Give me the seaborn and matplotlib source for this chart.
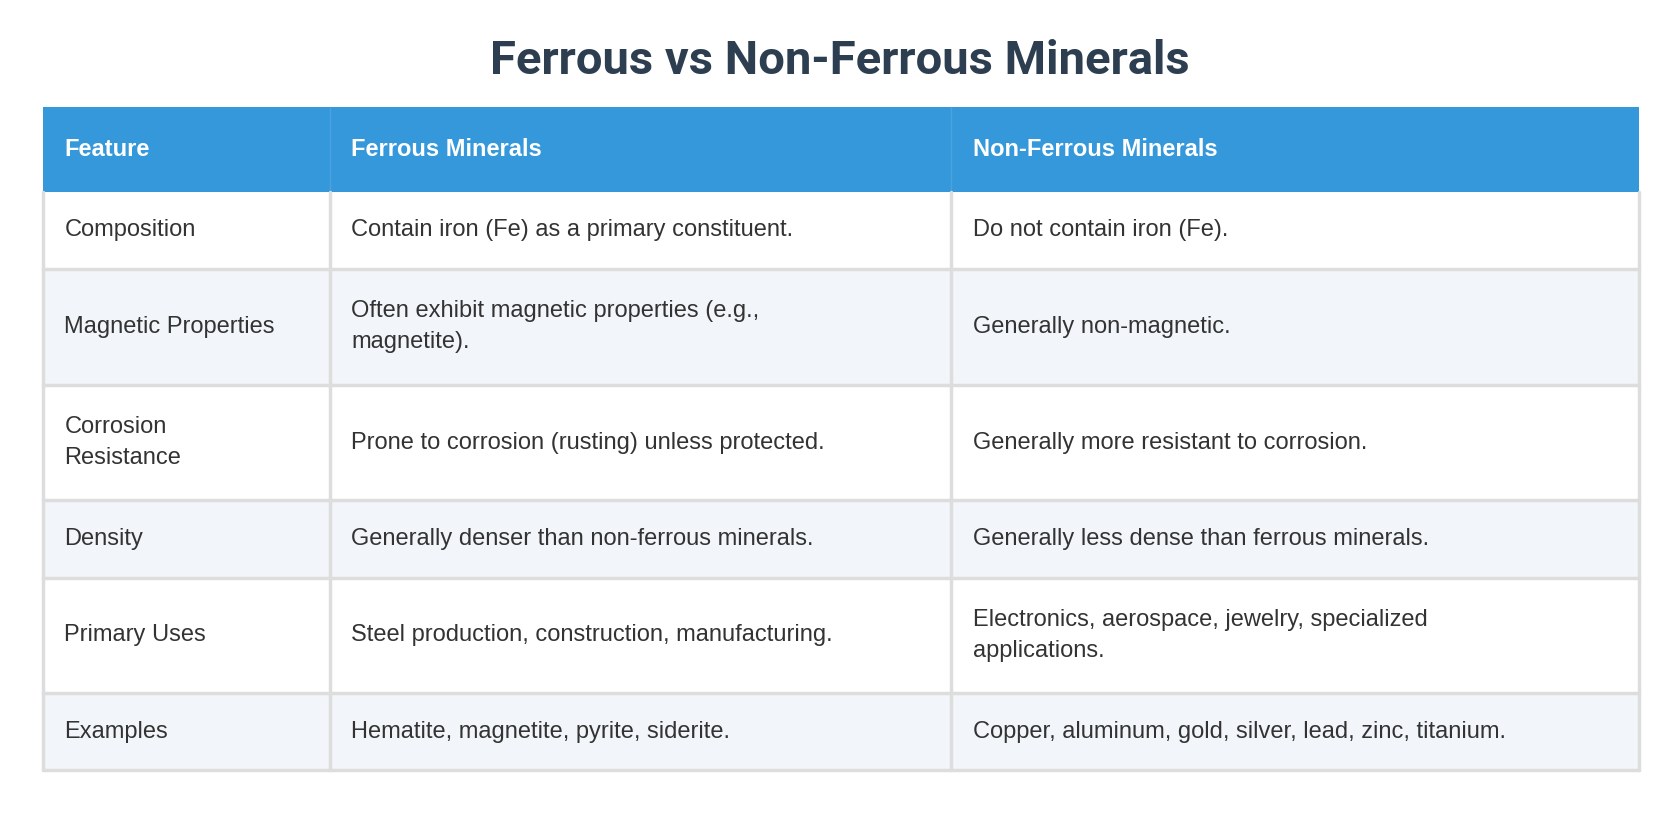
import matplotlib
matplotlib.use("Agg")
import matplotlib.pyplot as plt
import seaborn as sns
from matplotlib.patches import Rectangle

sns.set_theme(style="white")
plt.rcParams['font.family'] = ['Liberation Sans', 'DejaVu Sans']

# Table content
title = "Ferrous vs Non-Ferrous Minerals"
headers = ["Feature", "Ferrous Minerals", "Non-Ferrous Minerals"]
features = ["Composition", "Magnetic Properties", "Corrosion\nResistance",
            "Density", "Primary Uses", "Examples"]
ferrous = ["Contain iron (Fe) as a primary constituent.",
           "Often exhibit magnetic properties (e.g.,\nmagnetite).",
           "Prone to corrosion (rusting) unless protected.",
           "Generally denser than non-ferrous minerals.",
           "Steel production, construction, manufacturing.",
           "Hematite, magnetite, pyrite, siderite."]
non_ferrous = ["Do not contain iron (Fe).",
               "Generally non-magnetic.",
               "Generally more resistant to corrosion.",
               "Generally less dense than ferrous minerals.",
               "Electronics, aerospace, jewelry, specialized\napplications.",
               "Copper, aluminum, gold, silver, lead, zinc, titanium."]

# Layout (pixels, measured on a 1568-wide view, scaled to 1680)
s = 1680 / 1568
col_edges = [v * s for v in [40, 308, 888, 1530]]
header_top, header_bot = 100 * s, 179 * s
row_bottoms = [v * s for v in [251, 359, 467, 539, 647, 719]]
pad = 20 * s

fig = plt.figure(figsize=(16.8, 8.14), dpi=100)
ax = fig.add_axes([0, 0, 1, 1])
ax.set_xlim(0, 1680)
ax.set_ylim(814, 0)
ax.axis("off")

ax.text(840, 57 * s, title, ha="center", va="center", fontsize=34,
        fontweight="bold", color="#2c3e50", family=["Roboto", "DejaVu Sans"])

# header
ax.add_patch(Rectangle((col_edges[0], header_top), col_edges[-1] - col_edges[0],
                       header_bot - header_top, color="#3498db", lw=0))
for i, h in enumerate(headers):
    ax.text(col_edges[i] + pad, (header_top + header_bot) / 2, h, ha="left",
            va="center", fontsize=17, fontweight="bold", color="white")
for x in col_edges[1:-1]:
    ax.plot([x, x], [header_top, header_bot], color="#4aa3e0", lw=1)

# body rows
tops = [header_bot] + row_bottoms[:-1]
for r, (top, bot) in enumerate(zip(tops, row_bottoms)):
    fill = "#ffffff" if r % 2 == 0 else "#f2f5fa"
    ax.add_patch(Rectangle((col_edges[0], top), col_edges[-1] - col_edges[0],
                           bot - top, facecolor=fill, lw=0))
    cy = (top + bot) / 2
    for c, txt in enumerate([features[r], ferrous[r], non_ferrous[r]]):
        ax.text(col_edges[c] + pad, cy, txt, ha="left", va="center",
                multialignment="left", fontsize=17, color="#333333",
                linespacing=1.55)
    ax.plot([col_edges[0], col_edges[-1]], [bot, bot], color="#dddddd", lw=2.5)

for x in col_edges:
    ax.plot([x, x], [header_bot, row_bottoms[-1]], color="#dddddd", lw=2.5)

fig.savefig("out.png", dpi=100, facecolor="white")
